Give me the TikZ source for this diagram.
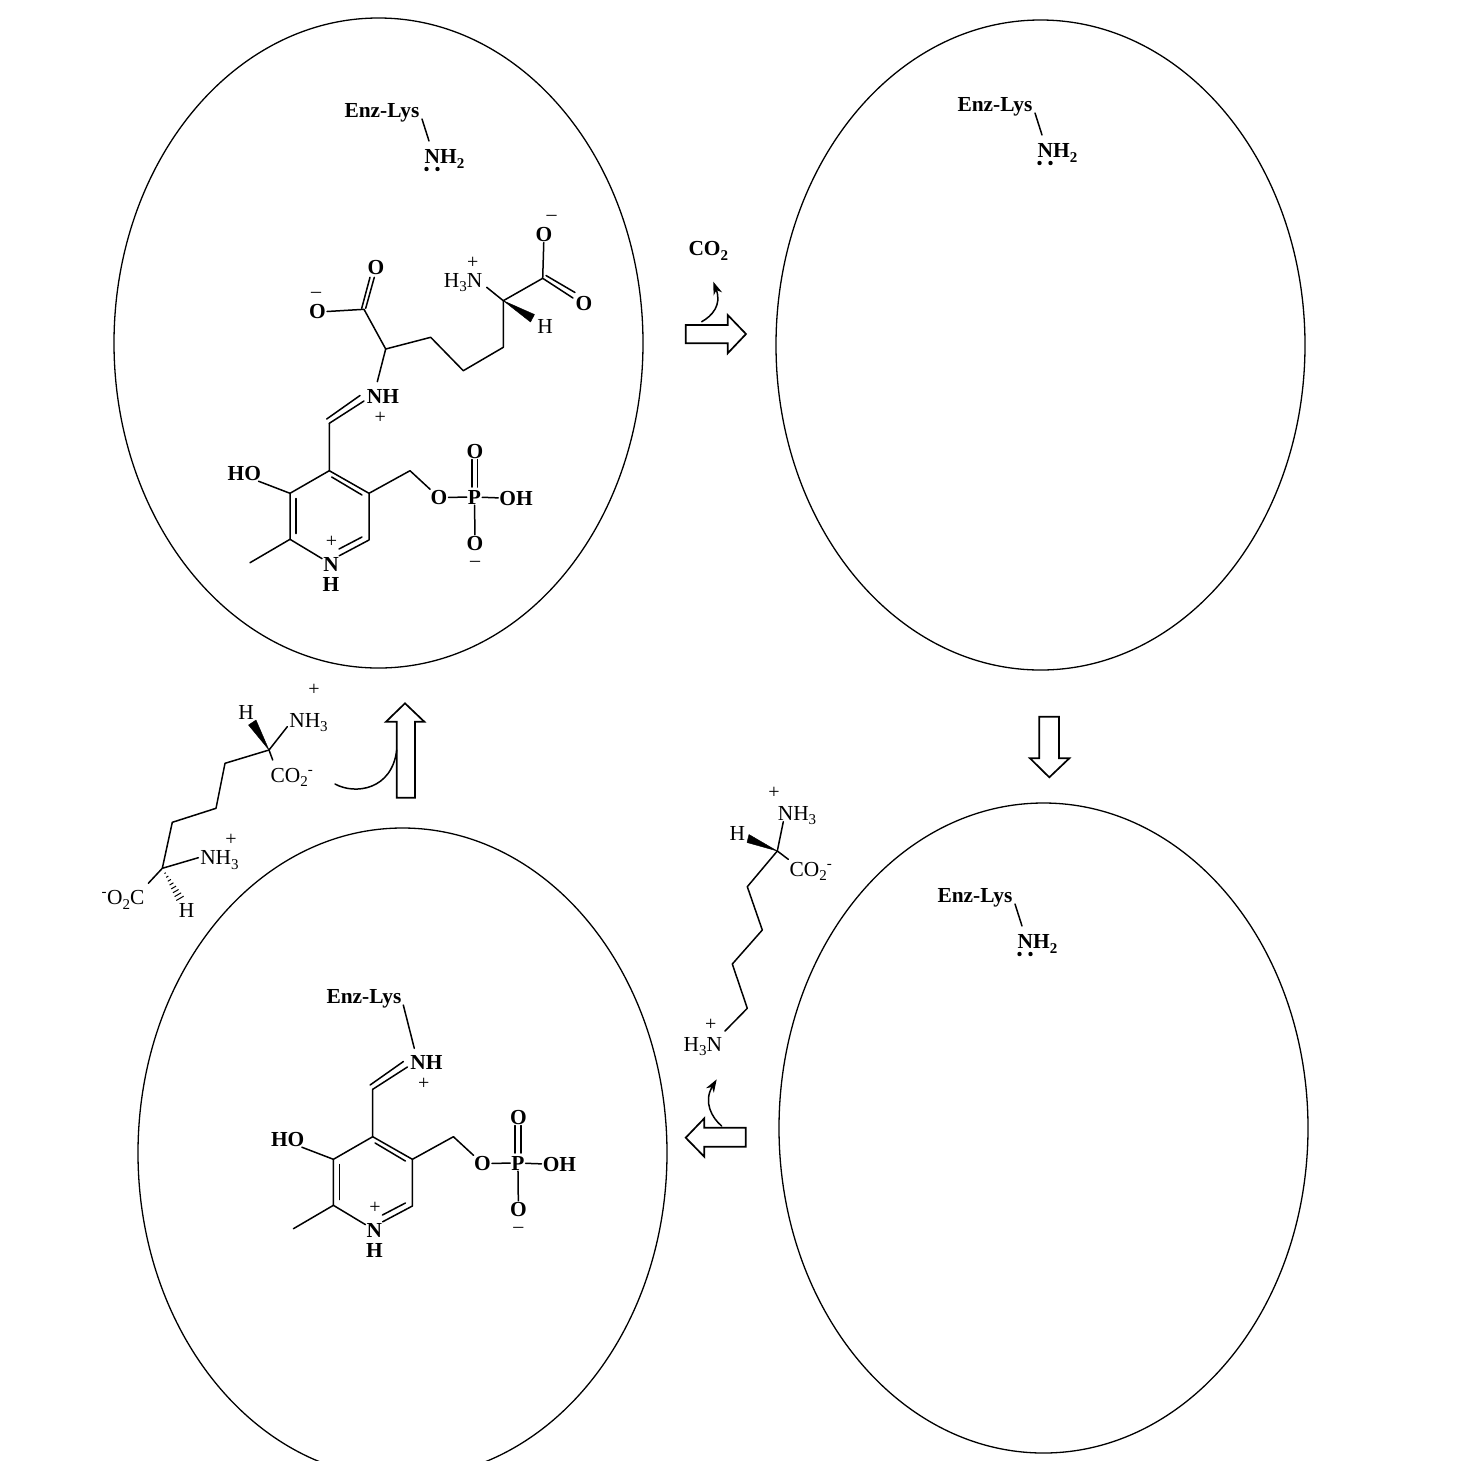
\documentclass[tikz,border=0pt]{standalone}
\usepackage{fontspec}
\setmainfont{Liberation Serif}
\usetikzlibrary{shapes.geometric,arrows.meta,calc}
\newcommand{\sbs}[1]{\raisebox{-4.5pt}{\fontsize{15}{15}\selectfont #1}}
\tikzset{
  bond/.style={line width=1.5pt,line cap=round,line join=round},
  pocket/.style={ellipse,draw,line width=1.3pt,minimum width=529pt,minimum height=650pt,inner sep=0pt},
  atomb/.style={inner sep=1pt,font=\fontsize{21.4}{21.4}\selectfont\bfseries,text height=14pt,text depth=0pt},
  atomr/.style={inner sep=1pt,font=\fontsize{21.4}{21.4}\selectfont,text height=14pt,text depth=0pt},
  charge/.style={inner sep=0pt,font=\fontsize{20}{20}\selectfont},
  wedge/.style={fill=black,draw=black,line width=.4pt,line join=round},
  hollow/.style={draw,fill=white,line width=1.7pt,line join=miter},
  curly/.style={bond,-{Stealth[length=13pt,width=9pt,inset=4pt]}},
  pair/.style={circle,fill=black,inner sep=0pt,minimum size=4.4pt}
}
% the pyridoxal phosphate part, drawn in the coordinates of the top-left copy
\newcommand{\plpart}{%
  \coordinate (c8) at (329.3,423.3);
  \coordinate (c9) at (329.3,470.7);
  \coordinate (c10) at (290,493.3);
  \coordinate (c11) at (290,539.3);
  \coordinate (c12) at (369,540);
  \coordinate (c13) at (369,493.3);
  \coordinate (me) at (250,562.7);
  \coordinate (ch2) at (410,470.7);
  \coordinate (imA) at (364,401);
  \coordinate (imB) at (326.7,419);
  \coordinate (imC) at (360,395.5);
  \node[atomb] (nh) at (383,396) {NH};
  \node[charge] (nhp) at (380.3,418) {+};
  \node[atomb] (ho) at (244.3,473) {HO};
  \node[atomb] (npy) at (331,564) {N};
  \node[atomb] (hpy) at (331,584.5) {H};
  \node[charge] (npyp) at (331.5,541.5) {+};
  \node[atomb] (op) at (439,497.5) {O};
  \node[atomb] (p) at (474.5,497) {P};
  \node[atomb] (oh) at (516,498.5) {OH};
  \node[atomb] (ot) at (475,451) {O};
  \node[atomb] (ob) at (475,543) {O};
  \node[charge] (obm) at (475,564) {–};
  \draw[bond] (c8) -- (c9) -- (c10) -- (c11) -- (npy);
  \draw[bond] (c9) -- (c13) -- (c12) -- (npy.45);
  \draw[bond] (296,498.5) -- (296,533.5);
  \draw[bond] (331.7,477) -- (362,495);
  \draw[bond] (339,549) -- (362,537);
  \draw[bond] (c8) -- (imA);
  \draw[bond] (imB) -- (imC);
  \draw[bond] (c10) -- (ho.-30);
  \draw[bond] (c11) -- (me);
  \draw[bond] (c13) -- (ch2) -- (op);
  \draw[bond] (op) -- (p);
  \draw[bond] (p) -- (oh);
  \draw[bond] (p) -- (ob);
  \draw[bond] (471.8,459.5) -- (471.8,487);
  \draw[bond] (477.6,459.5) -- (477.6,487);
}
% Enz-Lys with a free amine, drawn in the coordinates of the top-left copy
\newcommand{\enzamine}{%
  \node[atomb] (enz) at (382,110) {Enz-Lys};
  \node[atomb] (nh2) at (444.5,156.5) {NH\sbs{2}};
  \node[pair] (d1) at (426.5,169) {};
  \node[pair] (d2) at (437.5,169) {};
  \coordinate (e1) at (422,119);
  \coordinate (e2) at (429,141);
  \draw[bond] (e1) -- (e2);
}
\begin{document}
\begin{tikzpicture}[x=1pt,y=-1pt]
\useasboundingbox (0,0) rectangle (1464,1460);
\begin{scope}
\clip (0,0) rectangle (1464,1460);
\node[pocket] (p1) at (378.5,343) {};
\node[pocket] (p2) at (1040.5,345) {};
\node[pocket] (p3) at (1043.5,1128) {};
\node[pocket] (p4) at (402.5,1153) {};
\end{scope}

% enzyme lysines
\begin{scope}[name prefix=a-]\enzamine\end{scope}
\begin{scope}[shift={(613,-6)},name prefix=b-]\enzamine\end{scope}
\begin{scope}[shift={(593,785)},name prefix=c-]\enzamine\end{scope}

% external aldimine
\begin{scope}[name prefix=a-]
\plpart
\coordinate (c1) at (364,309.3);
\coordinate (c2) at (385.7,349);
\coordinate (c3) at (430.7,337.3);
\coordinate (c4) at (463.3,370.7);
\coordinate (c5) at (503.3,347.3);
\coordinate (c6) at (503.3,300.7);
\coordinate (c7) at (542.7,278.3);
\node[atomb] (o1) at (317.5,311.5) {O};
\node[charge] (o1m) at (316,295) {–};
\node[atomb] (o2) at (376,267) {O};
\node[atomb] (o3) at (544,234.5) {O};
\node[charge] (o3m) at (551.5,218) {–};
\node[atomb] (o4) at (584,303.5) {O};
\node[atomr] (h3n) at (463,280) {H\sbs{3}N};
\node[charge] (h3np) at (472.7,263) {+};
\node[atomr] (hc) at (545,326.5) {H};
\draw[bond] (o1.east) -- (c1) -- (c2) -- (c3) -- (c4) -- (c5) -- (c6) -- (c7) -- (o3);
\draw[bond] (c2) -- (377.3,381.7);
\draw[bond] (486.7,287.3) -- (c6);
\draw[bond] (361.7,308.3) -- (370,277.3);
\draw[bond] (365.7,308.3) -- (374.3,277.3);
\draw[bond] (c7) -- (573,298);
\draw[bond] (546,275.5) -- (575,292.5);
\fill[wedge] (c6) -- (534.5,314.5) -- (530.5,322) -- cycle;
\end{scope}

% internal aldimine
\begin{scope}[shift={(43.4,666)},name prefix=d-]
\plpart
\end{scope}
\node[atomb] (enz4) at (364,996.5) {Enz-Lys};
\coordinate (e41) at (403.3,1005);
\coordinate (e42) at (414.3,1048.3);
\draw[bond] (e41) -- (e42);

% lysine entering
\node[atomr] (lh) at (737.3,833.5) {H};
\node[atomr] (lnh3) at (797,813) {NH\sbs{3}};
\node[charge] (lnh3p) at (774,792.5) {+};
\node[atomr] (lco2) at (811,869) {CO\sbs{2}\textsuperscript{-}};
\node[atomr] (lnh) at (702.8,1044) {H\sbs{3}N};
\node[charge] (lnhp) at (710.7,1025) {+};
\coordinate (l0) at (777.3,851);
\coordinate (l1) at (747.3,886.7);
\coordinate (l2) at (762.3,930);
\coordinate (l3) at (732.3,964);
\coordinate (l4) at (747.3,1008.3);
\coordinate (l5) at (725,1031);
\coordinate (l6) at (783.3,821.7);
\coordinate (l7) at (788.3,859.3);
\draw[bond] (l5) -- (l4) -- (l3) -- (l2) -- (l1) -- (l0) -- (l6);
\draw[bond] (l0) -- (l7);
\fill[wedge] (l0) -- (749,834.5) -- (747,842.5) -- cycle;

% diaminopimelate
\node[atomr] (dh1) at (246,712.5) {H};
\node[atomr] (dn1) at (308.5,720) {NH\sbs{3}};
\node[charge] (dn1p) at (314,690) {+};
\node[atomr] (dco2) at (292,775) {CO\sbs{2}\textsuperscript{-}};
\node[atomr] (dn2) at (219.5,857.5) {NH\sbs{3}};
\node[charge] (dn2p) at (231,839.5) {+};
\node[atomr] (dco) at (123,897.5) {\textsuperscript{-}O\sbs{2}C};
\node[atomr] (dh2) at (186.7,910) {H};
\coordinate (k0) at (269,750);
\coordinate (k1) at (225,763.3);
\coordinate (k2) at (216,808.3);
\coordinate (k3) at (172.3,822.3);
\coordinate (k4) at (162.3,868.3);
\coordinate (k5) at (287.3,726.7);
\coordinate (k6) at (272.7,760);
\coordinate (k7) at (198.3,857.7);
\coordinate (k8) at (148.3,883.3);
\coordinate (k9) at (180,898.3);
\draw[bond] (k0) -- (k1) -- (k2) -- (k3) -- (k4) -- (k7);
\draw[bond] (k0) -- (k5);
\draw[bond] (k0) -- (k6);
\draw[bond] (k4) -- (k8);
\fill[wedge] (k0) -- (248.5,725) -- (256,720) -- cycle;
\foreach \t/\w in {.16/.8,.28/1.3,.40/1.8,.52/2.3,.64/2.8,.76/3.3,.88/3.8,1/4.3}{
  \draw[line width=1pt] ($(k4)!\t!(k9)+(-\w*.86,\w*.5)$) -- ($(k4)!\t!(k9)+(\w*.86,-\w*.5)$);
}

% hollow reaction arrows
\node[atomb] (co2) at (708.3,248.5) {CO\sbs{2}};
\draw[hollow] (685.7,325) -- (727.7,325) -- (727.7,315) -- (746,334) -- (727.7,353.3) -- (727.7,343.3) -- (685.7,343.3) -- cycle;
\draw[hollow] (1039.3,716.7) -- (1059,716.7) -- (1059,758.3) -- (1069.3,758.3) -- (1049.3,777.3) -- (1030,758.3) -- (1039.3,758.3) -- cycle;
\draw[hollow] (745.7,1127.7) -- (704.3,1127.7) -- (704.3,1118.3) -- (685.7,1137.7) -- (704.3,1156.7) -- (704.3,1146.7) -- (745.7,1146.7) -- cycle;
\draw[hollow] (396.7,797.7) -- (415,797.7) -- (415,721.7) -- (424.3,721.7) -- (405,703.3) -- (386,721.7) -- (396.7,721.7) -- cycle;

% curved arrows
\coordinate (u1) at (701.7,321.7);
\coordinate (u2) at (713.3,281.7);
\draw[curly] (u1) .. controls (712,316) and (722,305) .. (u2);
\coordinate (v1) at (721.7,1126);
\coordinate (v2) at (716.7,1079.3);
\draw[curly] (v1) .. controls (712,1118) and (703,1102) .. (v2);
\coordinate (w1) at (335,784);
\coordinate (w2) at (396.7,750);
\draw[bond] (w1) .. controls (355,795) and (392,790) .. (w2);
\end{tikzpicture}
\end{document}
